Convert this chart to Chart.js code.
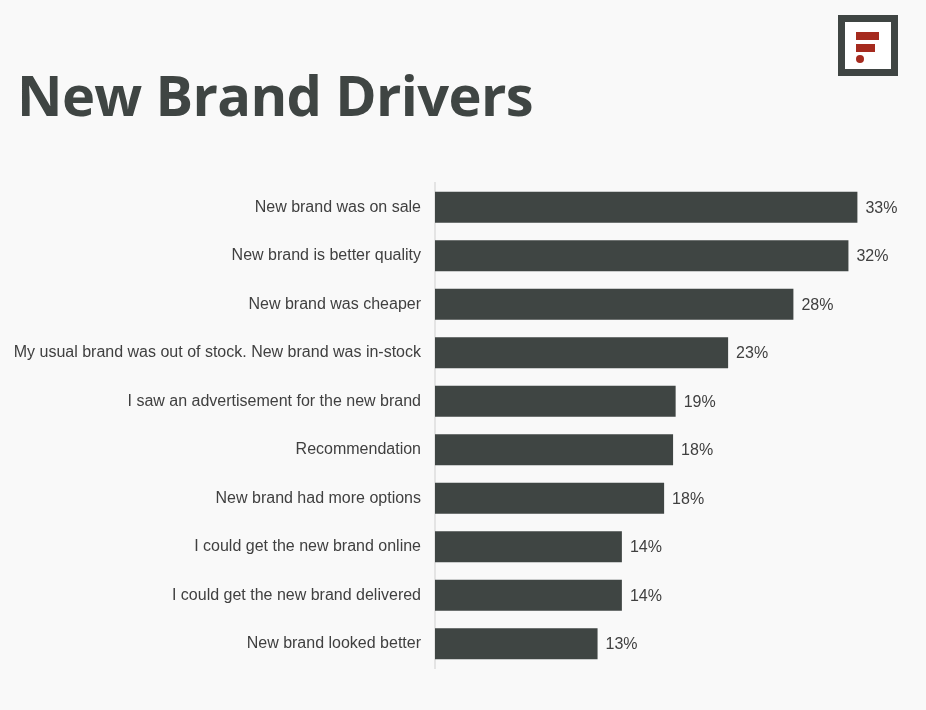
<!DOCTYPE html>
<html>
<head>
<meta charset="utf-8">
<title>New Brand Drivers</title>
<script src="https://cdn.jsdelivr.net/npm/chart.js@4"></script>
<style>
  html, body { margin: 0; padding: 0; background: #f9f9f9; overflow: hidden; }
  #wrap { position: relative; width: 926px; height: 710px; }
  h1 { position: absolute; left: 17px; top: 56px; margin: 0; font: 700 56px/76px "Open Sans", sans-serif; color: #3f4543; letter-spacing: -0.65px; }
  canvas { position: absolute; left: 0; top: 0; }
  .logo { position: absolute; left: 838px; top: 15px; width: 46px; height: 47px; border: 7px solid #3f4543; background: #fff; }
  .logo i { position: absolute; background: #a52a1e; display: block; }
  .logo .a { left: 11px; top: 10px; width: 23px; height: 8px; }
  .logo .b { left: 11px; top: 22px; width: 19px; height: 8px; }
  .logo .c { left: 11px; top: 33px; width: 8px; height: 8px; border-radius: 50%; }
</style>
</head>
<body>
<div id="wrap">
  <h1>New Brand Drivers</h1>
  <canvas id="chart" width="926" height="710"></canvas>
  <div class="logo"><i class="a"></i><i class="b"></i><i class="c"></i></div>
</div>
<script>
const categories = [
  'New brand was on sale',
  'New brand is better quality',
  'New brand was cheaper',
  'My usual brand was out of stock. New brand was in-stock',
  'I saw an advertisement for the new brand',
  'Recommendation',
  'New brand had more options',
  'I could get the new brand online',
  'I could get the new brand delivered',
  'New brand looked better'
];
const values = [33.0, 32.3, 28.0, 22.9, 18.8, 18.6, 17.9, 14.6, 14.6, 12.7];
const valueLabels = ['33%', '32%', '28%', '23%', '19%', '18%', '18%', '14%', '14%', '13%'];

// labels on the bars, the printed figures don't always round from the bar length
const barLabels = {
  id: 'barLabels',
  afterDatasetsDraw(chart) {
    const { ctx } = chart;
    ctx.save();
    ctx.font = '16px "Liberation Sans"';
    ctx.fillStyle = '#404040';
    ctx.textAlign = 'left';
    ctx.textBaseline = 'middle';
    chart.getDatasetMeta(0).data.forEach((bar, i) => {
      ctx.fillText(valueLabels[i], bar.x + 8, bar.y + 1);
    });
    ctx.restore();
  }
};

new Chart(document.getElementById('chart'), {
  type: 'bar',
  data: {
    labels: categories,
    datasets: [{
      data: values,
      backgroundColor: '#3f4543',
      barPercentage: 0.64,
      categoryPercentage: 1
    }]
  },
  options: {
    indexAxis: 'y',
    responsive: false,
    animation: false,
    layout: { padding: { top: 183, bottom: 42, left: 0, right: 17.4 } },
    plugins: { legend: { display: false }, tooltip: { enabled: false } },
    scales: {
      x: {
        display: false,
        min: 0,
        max: 37
      },
      y: {
        afterFit(axis) { axis.width = 435; },
        grid: { display: false, drawTicks: false },
        border: { display: true, color: '#e4e4e4', width: 2 },
        ticks: {
          padding: 14,
          color: '#404040',
          autoSkip: false,
          font: { family: '"Liberation Sans"', size: 16 }
        }
      }
    }
  },
  plugins: [barLabels]
});
</script>
</body>
</html>
